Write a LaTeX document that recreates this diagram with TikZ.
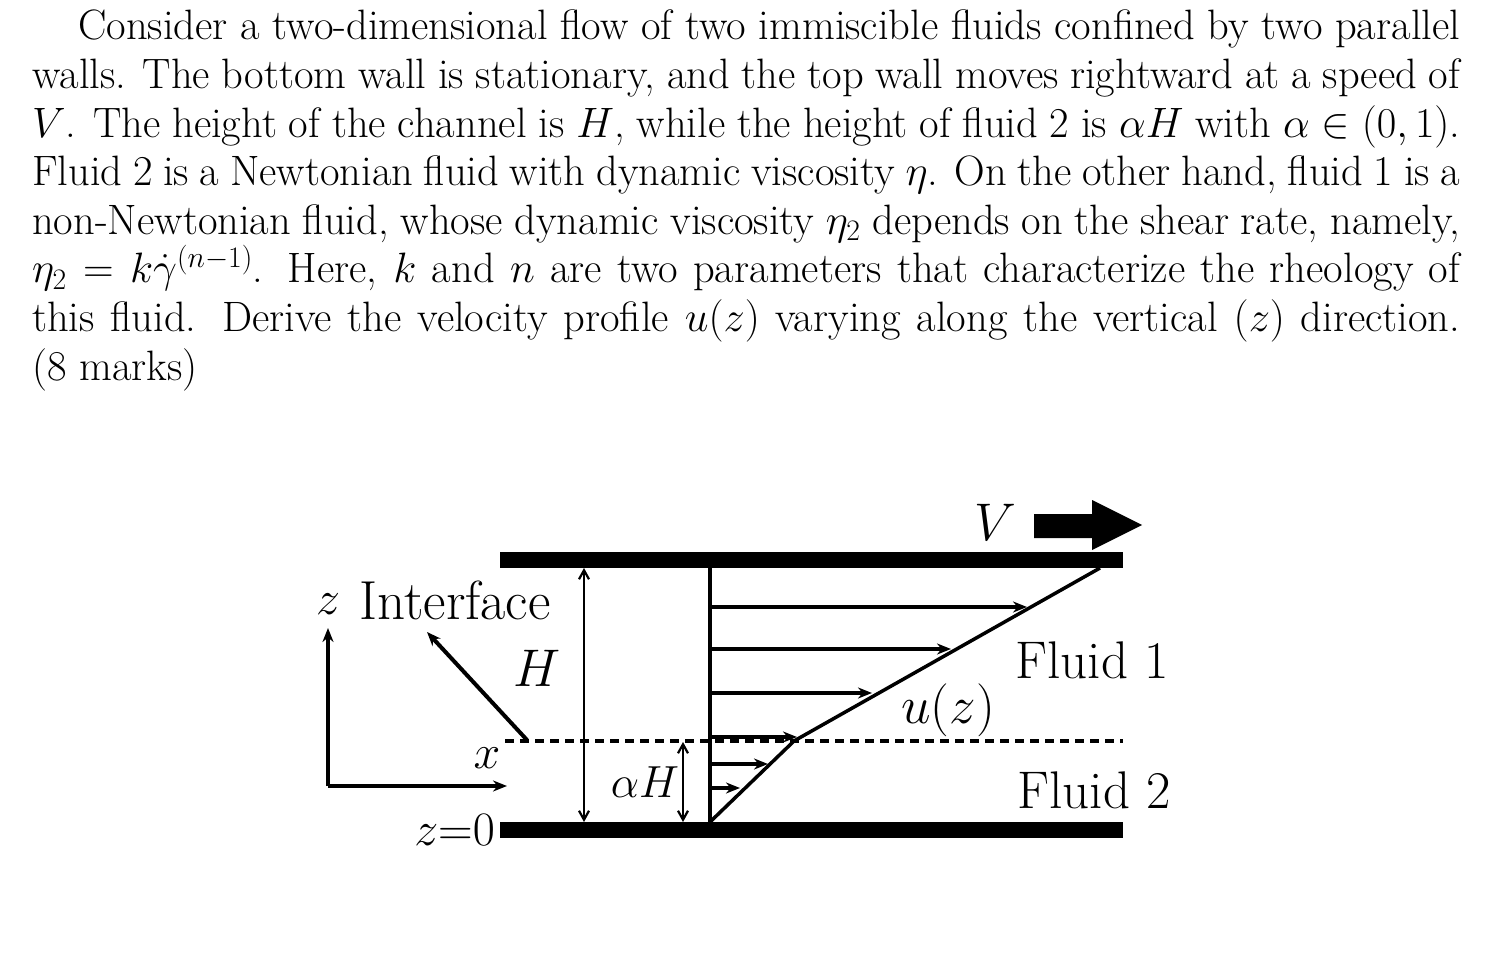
\documentclass[tikz,border=0pt]{standalone}
\usepackage{fix-cm}
\usepackage{fontspec}
\usetikzlibrary{arrows.meta}
\begin{document}
\begin{tikzpicture}[x=1pt,y=-1pt,
  txt/.style={anchor=base west,inner sep=0pt,font=\fontsize{42.5}{48}\selectfont},
  lab/.style={inner sep=0pt,font=\fontsize{53}{60}\selectfont},
  thin/.style={line width=3.5pt},
  >={Stealth[length=14pt,width=11pt]}]
\useasboundingbox (0,0) rectangle (1510,965);
\fill[white] (0,0) rectangle (1510,965);
% paragraph
\node[txt] (l1) at (78,40) {\makebox[1382pt][s]{Consider a two-dimensional flow of two immiscible fluids confined by two parallel}};
\node[txt] (l2) at (32,88.6) {\makebox[1428pt][s]{walls. The bottom wall is stationary, and the top wall moves rightward at a speed of}};
\node[txt] (l3) at (32,137.2) {\makebox[1428pt][s]{$V$. The height of the channel is $H$, while the height of fluid 2 is $\alpha H$ with $\alpha\in(0,1)$.}};
\node[txt] (l4) at (32,185.8) {\makebox[1428pt][s]{Fluid 2 is a Newtonian fluid with dynamic viscosity $\eta$. On the other hand, fluid 1 is a}};
\node[txt] (l5) at (32,234.4) {\makebox[1428pt][s]{non-Newtonian fluid, whose dynamic viscosity $\eta_2$ depends on the shear rate, namely,}};
\node[txt] (l6) at (32,283) {\makebox[1428pt][s]{$\eta_2=k\dot\gamma^{(n-1)}$. Here, $k$ and $n$ are two parameters that characterize the rheology of}};
\node[txt] (l7) at (32,331.6) {\makebox[1428pt][s]{this fluid. Derive the velocity profile $u(z)$ varying along the vertical $(z)$ direction.}};
\node[txt] (l8) at (32,380.2) {(8 marks)};
% walls
\fill (500,552) rectangle (1123,568);
\fill (500,822) rectangle (1123,838);
% interface
\draw[line width=4pt,dash pattern=on 9pt off 6pt] (505,741) -- (1123,741);
% coordinates
\coordinate (base) at (710,822);
\coordinate (top) at (710,568);
\coordinate (kink) at (794,741);
\coordinate (tip) at (1100,568);
\draw[thin] (top) -- (base);
\draw[thin] (base) -- (kink) -- (tip);
\foreach \y/\xe in {607/1027, 649/951, 693/872, 737/797, 764/768, 788/740}
  \draw[thin,->] (710,\y) -- (\xe,\y);
% dimension arrows
\coordinate (h1) at (584,568); \coordinate (h2) at (584,822);
\draw[line width=2.2pt,<->,>={Straight Barb[length=9pt,width=10pt]}] (h1) -- (h2);
\coordinate (a1) at (683,742); \coordinate (a2) at (683,822);
\draw[line width=2.2pt,<->,>={Straight Barb[length=9pt,width=10pt]}] (a1) -- (a2);
\node[lab] (H) at (537,668) {$H$};
\node[lab,font=\fontsize{45}{50}\selectfont] (aH) at (645,782) {$\alpha H$};
% axes
\coordinate (o) at (328,786);
\coordinate (zt) at (328,628);
\coordinate (xt) at (507,786);
\draw[line width=4pt,->] (o) -- (zt);
\draw[line width=4pt,->] (o) -- (xt);
\node[lab,font=\fontsize{48}{50}\selectfont] (z) at (328,604) {$z$};
\node[lab,font=\fontsize{48}{50}\selectfont] (x) at (487,758) {$x$};
\node[lab,font=\fontsize{55}{60}\selectfont] (int) at (455,600) {Interface};
\coordinate (is) at (527,740); \coordinate (ie) at (427,632);
\draw[line width=4pt,->] (is) -- (ie);
\node[lab,anchor=east,font=\fontsize{48}{50}\selectfont] (z0) at (495,830) {$z{=}0$};
% V
\node[lab] (V) at (995,522) {$V$};
\fill (1034,514) -- (1092,514) -- (1092,500) -- (1142,525) -- (1092,550) -- (1092,538) -- (1034,538) -- cycle;
\node[lab] (f1) at (1092,660) {Fluid 1};
\node[lab] (f2) at (1094,790) {Fluid 2};
\node[lab] (u) at (948,710) {$u(z)$};
\end{tikzpicture}
\end{document}
